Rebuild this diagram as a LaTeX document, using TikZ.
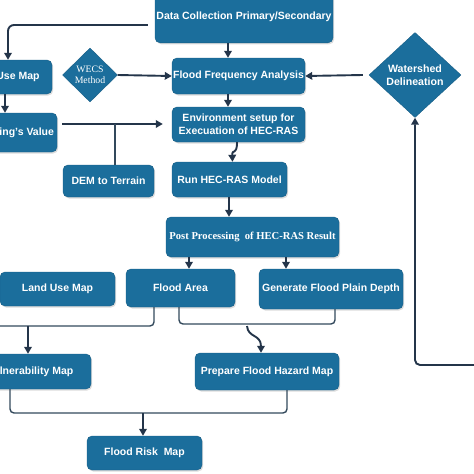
\documentclass[tikz,border=0pt]{standalone}
\usepackage{fontspec}
\setmainfont{Liberation Serif}
\setsansfont{Liberation Sans}
\usetikzlibrary{arrows.meta,shapes.geometric,shadows}
\definecolor{boxblue}{HTML}{1B6E9C}
\definecolor{arrowc}{HTML}{24354A}
\definecolor{linec}{HTML}{33495C}
\tikzset{
  box/.style={rectangle, rounded corners=5pt, fill=boxblue, draw=boxblue!85!black, line width=0.4pt,
    text=white, font=\sffamily\bfseries\fontsize{10.5}{13}\selectfont, align=center, inner sep=0pt,
    drop shadow={shadow xshift=1.2pt, shadow yshift=-1.5pt, fill=black!30, opacity=0.45}},
  dia/.style={diamond, fill=boxblue, draw=boxblue!85!black, text=white, inner sep=0pt, align=center, aspect=1},
  arr/.style={draw=arrowc, line width=1.9pt, -{Triangle[width=7.5pt,length=7pt]}},
  lin/.style={draw=linec, line width=1.4pt, rounded corners=4pt},
}
\begin{document}
\begin{tikzpicture}[x=1pt,y=-1pt]
\useasboundingbox (0,0) rectangle (474,474);
% nodes
\node[box, minimum width=178, minimum height=53, anchor=south] (dc) at (244,43) {\raisebox{-5.5pt}{Data Collection Primary/Secondary}};
\node[box, minimum width=96, minimum height=34] (lum) at (4,77) {Land Use Map};
\node[dia, minimum width=55, minimum height=54, font=\rmfamily\fontsize{9.8}{11}\selectfont] (wecs) at (90,75) {WECS\\Method};
\node[box, minimum width=133, minimum height=36] (ffa) at (238.5,76) {Flood Frequency Analysis};
\node[dia, minimum width=92, minimum height=85, font=\sffamily\bfseries\fontsize{10.6}{12.7}\selectfont] (ws) at (415,75) {Watershed\\Delineation};
\node[box, minimum width=88, minimum height=39] (man) at (13,132.5) {Manning's Value};
\node[box, minimum width=133, minimum height=35] (env) at (238.5,124.5) {Environment setup for\\Execuation of HEC-RAS};
\node[box, minimum width=91, minimum height=32] (dem) at (108.5,181) {DEM to Terrain};
\node[box, minimum width=115, minimum height=35] (run) at (229.5,179.5) {Run HEC-RAS Model};
\node[box, minimum width=173, minimum height=40, font=\rmfamily\bfseries\fontsize{10.6}{13}\selectfont] (post) at (252.5,237) {Post Processing\ \ of HEC-RAS Result};
\node[box, minimum width=115, minimum height=34] (lu2) at (57.5,289) {Land Use Map};
\node[box, minimum width=109, minimum height=38] (fa) at (180.5,288) {Flood Area};
\node[box, minimum width=144, minimum height=40] (gen) at (331,289) {Generate Flood Plain Depth};
\node[box, minimum width=122, minimum height=35] (vul) at (30,371.5) {Vulnerability Map};
\node[box, minimum width=144, minimum height=37] (prep) at (267,371.5) {Prepare Flood Hazard Map};
\node[box, minimum width=115, minimum height=34] (fr) at (144.5,453) {Flood Risk\ \ Map};
% helper coordinates
\coordinate (yA) at (0,25);
\coordinate (xA) at (228,0);
\coordinate (xB) at (229,0);
\coordinate (yM) at (0,124);
\coordinate (jM) at (115,124);
\coordinate (jV) at (28,326);
\coordinate (offL) at (-12,326);
\coordinate (jP) at (247,324);
\coordinate (jR) at (143,413);
\coordinate (offR) at (490,365);
% connectors
\draw[arr, rounded corners=6pt] ([xshift=-7pt]dc.west |- yA) -| (lum.north -| {(8,0)});
\draw[arr] (dc.south -| xA) -- (ffa.north -| xA);
\draw[arr] (wecs.east) -- (ffa.west);
\draw[arr] ([xshift=-6pt]ws.west) -- (ffa.east);
\draw[arr] (ffa.south -| xA) -- (env.north -| xA);
\draw[arr] (lum.south -| {(5,0)}) -- (man.north -| {(5,0)});
\draw[arr] ([xshift=5pt]man.east |- yM) -- ([xshift=-9pt]env.west |- yM);
\draw[lin] (dem.north -| jM) -- (jM);
\draw[arr] ([xshift=-1.5pt]env.south) .. controls ([xshift=-1.5pt,yshift=-14pt]env.south) and ([xshift=-6.5pt,yshift=-6pt]env.south) .. ([xshift=-6pt]env.south |- run.north);
\draw[arr] (run.south -| xB) -- (post.north -| xB);
\draw[arr] ([xshift=-63.5pt]post.south) -- ([xshift=8.5pt]fa.north);
\draw[arr] ([xshift=33.5pt]post.south) -- ([xshift=-45pt]gen.north);
\draw[lin] ([xshift=-26.5pt]fa.south) |- (offL);
\draw[arr] (jV) -- (vul.north -| jV);
\draw[lin] ([xshift=-1.5pt]fa.south) |- (jP) -| ([xshift=4pt]gen.south);
\draw[arr] ([yshift=-2pt]jP) .. controls (248,338) and (261,334) .. ([xshift=-6pt]prep.north);
\draw[lin] (vul.south -| {(10,0)}) |- (jR) -| ([xshift=20pt]prep.south);
\draw[arr] (jR) -- ([xshift=-1.5pt]fr.north);
\draw[arr, rounded corners=5pt] (offR) -| (ws.south);
\end{tikzpicture}
\end{document}
